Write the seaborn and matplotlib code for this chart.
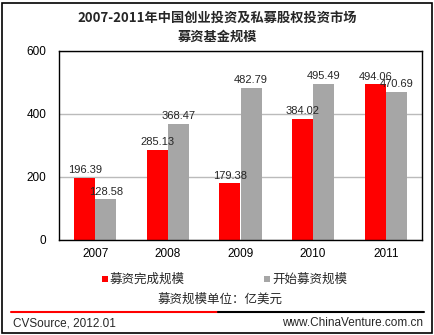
import matplotlib
matplotlib.use("Agg")
import matplotlib.pyplot as plt
import seaborn as sns
import pandas as pd
from matplotlib.patches import Rectangle
from matplotlib.lines import Line2D

years = ["2007", "2008", "2009", "2010", "2011"]
completed = [196.39, 285.13, 179.38, 384.02, 494.06]
started = [128.58, 368.47, 482.79, 495.49, 470.69]
series_names = ["募资完成规模", "开始募资规模"]
title = "2007-2011年中国创业投资及私募股权投资市场\n募资基金规模"
unit_text = "募资规模单位：亿美元"
source_left = "CVSource, 2012.01"
source_right = "www.ChinaVenture.com.cn"
yticks = [0, 200, 400, 600]
colors = ["#FF0000", "#A6A6A6"]

sns.set_style("white")
plt.rcParams['font.family'] = ['Liberation Sans', 'Noto Sans CJK SC', 'DejaVu Sans']
cjk = ['Noto Sans CJK SC', 'DejaVu Sans']

df = pd.DataFrame({
    "year": years * 2,
    "value": completed + started,
    "series": [series_names[0]] * 5 + [series_names[1]] * 5,
})

W, H = 435, 335
fig = plt.figure(figsize=(W / 100, H / 100), dpi=100)
fig.patches.append(Rectangle((2 / W, 2 / H), 430 / W, 330 / H, transform=fig.transFigure,
                             fill=False, edgecolor='black', linewidth=1.2))

ax = fig.add_axes([59 / W, 1 - 240 / H, 363 / W, 189 / H])
sns.barplot(data=df, x="year", y="value", hue="series", order=years,
            hue_order=series_names, palette=colors,
            width=0.58, gap=0, saturation=1, legend=False, ax=ax, edgecolor="none")

ax.set_ylim(0, 600)
ax.set_yticks(yticks)
ax.yaxis.grid(True, color="#BBBBBB", linewidth=1)
ax.set_axisbelow(True)
ax.set_xlabel("")
ax.set_ylabel("")
for s in ax.spines.values():
    s.set_visible(True)
    s.set_color("black")
    s.set_linewidth(1)
ax.tick_params(axis='both', length=0, labelsize=8.5, colors='black')
ax.tick_params(axis='y', pad=9)
ax.tick_params(axis='x', pad=5.5)

for cont in ax.containers:
    ax.bar_label(cont, fmt="%.2f", fontsize=8, padding=2)

fig.text(0.5, 1 - 27 / H, title, ha='center', va='center', fontsize=9.5,
         fontweight='bold', family=cjk, linespacing=1.45)

# legend
ly = 279
fig.patches.append(Rectangle((102 / W, 1 - (ly + 3) / H), 6 / W, 6 / H, transform=fig.transFigure,
                             facecolor=colors[0], edgecolor='none'))
fig.text(110 / W, 1 - ly / H, series_names[0], ha='left', va='center', fontsize=9, family=cjk)
fig.patches.append(Rectangle((264 / W, 1 - (ly + 3) / H), 6 / W, 6 / H, transform=fig.transFigure,
                             facecolor=colors[1], edgecolor='none'))
fig.text(272 / W, 1 - ly / H, series_names[1], ha='left', va='center', fontsize=9, family=cjk)
fig.text(220 / W, 1 - 299 / H, unit_text, ha='center', va='center', fontsize=9, family=cjk)

fig.add_artist(Line2D([11 / W, 218 / W], [1 - 312 / H] * 2, color="#FF0000", linewidth=1.5,
                      transform=fig.transFigure))
fig.add_artist(Line2D([218 / W, 424 / W], [1 - 312 / H] * 2, color="black", linewidth=1.5,
                      transform=fig.transFigure))
fig.text(13 / W, 1 - 323 / H, source_left, ha='left', va='center', fontsize=8.5)
fig.text(423 / W, 1 - 323 / H, source_right, ha='right', va='center', fontsize=8.5)

fig.savefig("out.png", dpi=100)
